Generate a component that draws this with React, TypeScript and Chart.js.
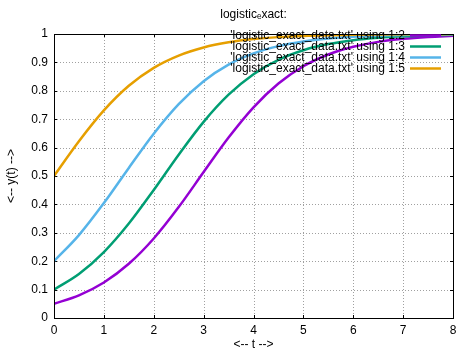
import React, { useEffect, useRef } from "react";
import { Chart, registerables } from "chart.js";
Chart.register(...registerables);

const tValues = [0, 0.5, 1, 1.5, 2, 2.5, 3, 3.5, 4, 4.5, 5, 5.5, 6, 6.5, 7, 7.5, 8];
const col2 = [0.05, 0.0798, 0.1252, 0.1909, 0.28, 0.3906, 0.5139, 0.6353, 0.7418, 0.8257, 0.8865, 0.9279, 0.955, 0.9723, 0.983, 0.9896, 0.9937];
const col3 = [0.1, 0.1548, 0.232, 0.3325, 0.4509, 0.575, 0.6906, 0.7862, 0.8586, 0.9091, 0.9428, 0.9645, 0.9782, 0.9867, 0.9919, 0.995, 0.997];
const col4 = [0.2, 0.2919, 0.4046, 0.5284, 0.6488, 0.7528, 0.8339, 0.8922, 0.9318, 0.9574, 0.9737, 0.9839, 0.9902, 0.994, 0.9964, 0.9978, 0.9987];
const col5 = [0.5, 0.6225, 0.7311, 0.8176, 0.8808, 0.9241, 0.9526, 0.9707, 0.982, 0.989, 0.9933, 0.9959, 0.9975, 0.9985, 0.9991, 0.9994, 0.9997];
const seriesLabels = [
  "'logistic_exact_data.txt' using 1:2",
  "'logistic_exact_data.txt' using 1:3",
  "'logistic_exact_data.txt' using 1:4",
  "'logistic_exact_data.txt' using 1:5",
];
const seriesColors = ["#9400d3", "#009e73", "#56b4e9", "#e69f00"];
const titleText = "logisticₑxact:";
const xTitle = "<-- t -->";
const yTitle = "<-- y(t) -->";

const FONT = "Liberation Sans, Arial, sans-serif";

const gnuplotPlugin = {
  id: "gnuplotDeco",
  beforeDatasetsDraw(chart: any) {
    const { ctx, chartArea: a, scales } = chart;
    const xs = scales.x;
    const ys = scales.y;
    ctx.save();
    ctx.strokeStyle = "#a0a0a0";
    ctx.lineWidth = 1;
    ctx.setLineDash([1, 2]);
    ctx.beginPath();
    xs.ticks.forEach((t: any) => {
      const px = Math.round(xs.getPixelForValue(t.value)) + 0.5;
      ctx.moveTo(px, a.top);
      ctx.lineTo(px, a.bottom);
    });
    ys.ticks.forEach((t: any) => {
      const py = Math.round(ys.getPixelForValue(t.value)) + 0.5;
      ctx.moveTo(a.left, py);
      ctx.lineTo(a.right, py);
    });
    ctx.stroke();
    ctx.setLineDash([]);
    ctx.strokeStyle = "#000";
    ctx.beginPath();
    const L = 3;
    xs.ticks.forEach((t: any) => {
      const px = Math.round(xs.getPixelForValue(t.value)) + 0.5;
      ctx.moveTo(px, a.bottom);
      ctx.lineTo(px, a.bottom - L);
      ctx.moveTo(px, a.top);
      ctx.lineTo(px, a.top + L);
    });
    ys.ticks.forEach((t: any) => {
      const py = Math.round(ys.getPixelForValue(t.value)) + 0.5;
      ctx.moveTo(a.left, py);
      ctx.lineTo(a.left + L, py);
      ctx.moveTo(a.right, py);
      ctx.lineTo(a.right - L, py);
    });
    ctx.stroke();
    ctx.restore();
  },
  afterDatasetsDraw(chart: any) {
    const { ctx, chartArea: a } = chart;
    ctx.save();
    ctx.strokeStyle = "#000";
    ctx.lineWidth = 1;
    ctx.strokeRect(Math.round(a.left) + 0.5, Math.round(a.top) + 0.5, Math.round(a.right - a.left), Math.round(a.bottom - a.top));
    ctx.font = `12px ${FONT}`;
    ctx.textAlign = "right";
    ctx.textBaseline = "middle";
    chart.data.datasets.forEach((ds: any, i: number) => {
      const y = a.top + 1.5 + i * 11;
      ctx.fillStyle = "#000";
      ctx.fillText(ds.label, 405, y);
      ctx.strokeStyle = ds.borderColor;
      ctx.lineWidth = 2.5;
      ctx.beginPath();
      ctx.moveTo(410, y);
      ctx.lineTo(441, y);
      ctx.stroke();
    });
    ctx.textAlign = "center";
    ctx.fillStyle = "#000";
    ctx.font = `12px ${FONT}`;
    ctx.fillText(titleText, (a.left + a.right) / 2, 15);
    ctx.fillText(xTitle, (a.left + a.right) / 2, 345);
    ctx.translate(12, (a.top + a.bottom) / 2);
    ctx.rotate(-Math.PI / 2);
    ctx.fillText(yTitle, 0, 0);
    ctx.restore();
  },
};

export default function App() {
  const ref = useRef<HTMLCanvasElement>(null);
  useEffect(() => {
    if (!ref.current) return;
    const mk = (vals: number[]) => tValues.map((t, i) => ({ x: t, y: vals[i] }));
    const all = [col2, col3, col4, col5];
    const chart = new Chart(ref.current, {
      type: "line",
      data: {
        datasets: all.map((vals, i) => ({
          label: seriesLabels[i],
          data: mk(vals),
          borderColor: seriesColors[i],
          backgroundColor: seriesColors[i],
          borderWidth: 2.5,
          pointRadius: 0,
          cubicInterpolationMode: "monotone" as const,
          fill: false,
          order: 3 - i,
        })),
      },
      options: {
        animation: false,
        responsive: false,
        events: [],
        layout: { padding: { top: 34, right: 21, left: 0, bottom: 0 } },
        plugins: { legend: { display: false }, title: { display: false }, tooltip: { enabled: false } },
        scales: {
          x: {
            type: "linear",
            min: 0,
            max: 8,
            border: { display: false },
            grid: { display: false, drawTicks: false },
            ticks: { stepSize: 1, color: "#000", font: { family: FONT, size: 12 }, padding: 5, maxRotation: 0 },
            afterFit: (s: any) => { s.height = 37; },
          },
          y: {
            type: "linear",
            min: 0,
            max: 1,
            border: { display: false },
            grid: { display: false, drawTicks: false },
            ticks: { stepSize: 0.1, color: "#000", font: { family: FONT, size: 12 }, padding: 6, callback: (v: any) => String(Math.round(v * 10) / 10) },
            afterFit: (s: any) => { s.width = 54; },
          },
        },
      },
      plugins: [gnuplotPlugin],
    });
    return () => chart.destroy();
  }, []);
  return (
    <div style={{ position: "fixed", left: 0, top: 0, width: 474, height: 355, background: "#fff" }}>
      <canvas ref={ref} width={474} height={355} style={{ width: 474, height: 355 }} />
    </div>
  );
}
